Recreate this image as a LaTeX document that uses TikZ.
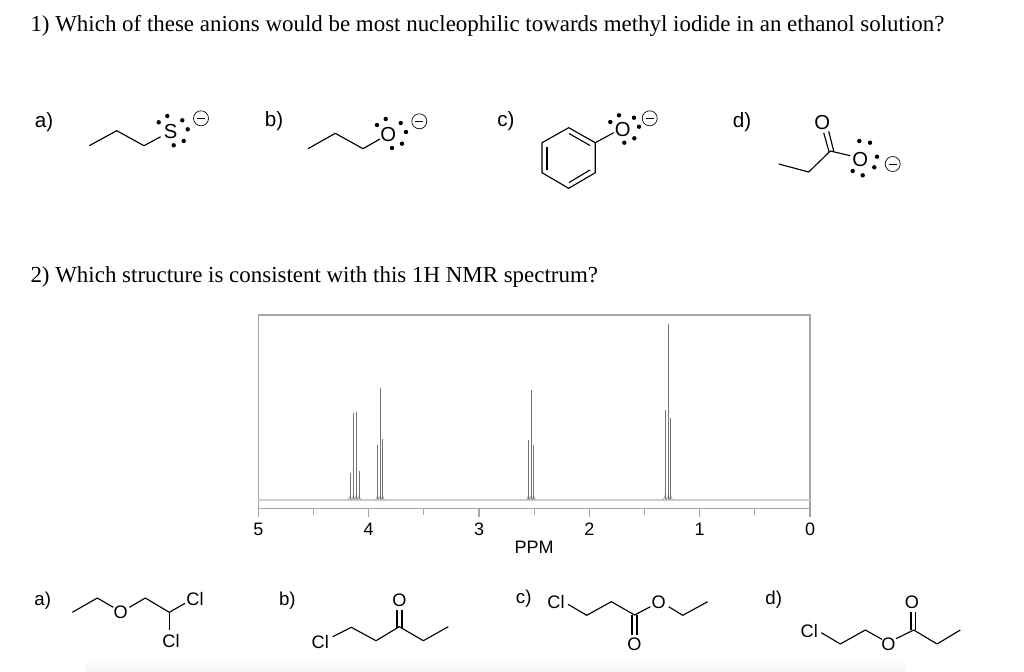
\documentclass[tikz,border=0pt]{standalone}
\usepackage{fontspec}
\setmainfont{Liberation Serif}
\newfontfamily\chemfont{Liberation Sans}
\tikzset{every picture/.style={line width=0.75pt}}
\tikzset{
  question/.style={anchor=west,inner sep=0pt,font=\fontsize{17.2}{20}\selectfont},
  option/.style={inner sep=0pt,font=\chemfont\fontsize{15.5}{18}\selectfont},
  low option/.style={inner sep=0pt,font=\chemfont\fontsize{14}{16}\selectfont},
  atom/.style={inner sep=0pt,font=\chemfont\fontsize{15.2}{17}\selectfont},
  low atom/.style={inner sep=0pt,font=\chemfont\fontsize{13.6}{15}\selectfont},
  tick label/.style={inner sep=0pt,font=\chemfont\fontsize{13.5}{15}\selectfont},
  bond/.style={line width=0.85pt,line join=round},
  lone/.style={fill=black,draw=none},
  frame/.style={draw={rgb,255:red,165;green,165;blue,165},line width=0.8pt},
  base/.style={draw={rgb,255:red,205;green,205;blue,205},line width=1.1pt},
  peak/.style={draw={rgb,255:red,115;green,115;blue,115},line width=0.75pt}
}
\newcommand{\minuscharge}[2]{%
  \draw[line width=0.5pt] (#1,#2) circle (7.5);
  \draw[line width=0.75pt] ({#1-4},#2) -- ({#1+4},#2);}
\newcommand{\lonedot}[2]{\fill[lone] (#1,#2) circle (2.2);}
\newcommand{\nmrpeak}[2]{%
  \draw[peak] (#1,499) -- (#1,#2);
  \draw[peak,draw opacity=0.5] ({#1-1.6},499.6) -- (#1,496) -- ({#1+1.6},499.6);}
\begin{document}
\begin{tikzpicture}[x=0.75pt,y=0.75pt,yscale=-1,xscale=1]
	\useasboundingbox (0,0) rectangle (1024,671);

	% faint edge at the foot of the page
	\fill[top color=white,bottom color={rgb,255:red,245;green,245;blue,245},draw=none] (85,657) rectangle (905,671);

	% Questions
	\node[question] (qone) at (30,25.5) {1) Which of these anions would be most nucleophilic towards methyl iodide in an ethanol solution?};
	\node[question] (qtwo) at (30,277) {2) Which structure is consistent with this 1H NMR spectrum?};

	% Anion a
	\node[option] (topa) at (44,122.5) {a)};
	\draw[bond] (89.3,145.7) -- (116.7,130.7) -- (144,145.7) -- (160.7,136.7);
	\node[atom] (sulfur) at (170.7,131.7) {S};
	\lonedot{167.3}{116} \lonedot{158.7}{122.3} \lonedot{182.3}{120.3}
	\lonedot{187.7}{129.3} \lonedot{173.7}{145.3} \lonedot{183.7}{141}
	\minuscharge{201}{118.3}

	% Anion b
	\node[option] (topb) at (274,121.5) {b)};
	\draw[bond] (308,148.7) -- (335.3,133.3) -- (363,148.7) -- (380,139);
	\node[atom] (oxygenb) at (388.3,134.3) {O};
	\lonedot{385.7}{119} \lonedot{377}{125} \lonedot{400.7}{123}
	\lonedot{406}{132} \lonedot{392}{148} \lonedot{402}{143.7}
	\minuscharge{419.3}{121.3}

	% Anion c
	\node[option] (topc) at (506,121.5) {c)};
	\draw[bond] (568.7,127.7) -- (595.3,142.7) -- (595.3,172.7) -- (568.7,188.3) -- (542,172.7) -- (542,142.7) -- cycle;
	\draw[bond] (569,133.5) -- (590,145.5);
	\draw[bond] (547,147) -- (547,169.5);
	\draw[bond] (569,182.5) -- (590,170);
	\draw[bond] (595.3,142.7) -- (613.7,132.7);
	\node[atom] (oxygenc) at (622.7,129.3) {O};
	\lonedot{619}{115.3} \lonedot{610.3}{122} \lonedot{634}{117.7}
	\lonedot{639}{126.7} \lonedot{624.3}{142.7} \lonedot{634.3}{138.3}
	\minuscharge{649.7}{118.3}

	% Anion d
	\node[option] (topd) at (742,122.5) {d)};
	\draw[bond] (778.7,164) -- (808.7,172) -- (830.3,151) -- (850.3,155.7);
	\draw[bond] (823.7,132.7) -- (829,151.7);
	\draw[bond] (828.7,131.3) -- (833.7,151);
	\node[atom] (oxygendone) at (822.3,122.3) {O};
	\node[atom] (oxygendtwo) at (860.3,159.3) {O};
	\lonedot{859.3}{141} \lonedot{870}{142.7} \lonedot{877}{156.7}
	\lonedot{874.3}{167.3} \lonedot{852.7}{171} \lonedot{862.7}{175.3}
	\minuscharge{892.7}{164}

	% Spectrum
	\draw[frame] (258.3,508.3) -- (258.3,315) -- (810,315) -- (810,508.3);
	\draw[base] (258.3,500) -- (810,500);
	\draw[frame] (258.3,508.3) -- (810,508.3);
	\foreach \tickx in {258.3,368.7,479,589.3,699.7,810}
		\draw[frame] (\tickx,508.3) -- (\tickx,517);
	\foreach \tickx in {313.5,423.9,534.2,644.5,754.9}
		\draw[frame] (\tickx,508.3) -- (\tickx,515);
	\nmrpeak{350}{472.7} \nmrpeak{353.3}{413.3} \nmrpeak{356}{412} \nmrpeak{359}{471}
	\nmrpeak{377.3}{445} \nmrpeak{380}{388} \nmrpeak{382.7}{439.3}
	\nmrpeak{528.3}{440} \nmrpeak{531}{390} \nmrpeak{533.7}{445}
	\nmrpeak{665}{410} \nmrpeak{668}{324} \nmrpeak{670.7}{418}
	\node[tick label] (ppmfive) at (258.3,529.5) {5};
	\node[tick label] (ppmfour) at (368.7,529.5) {4};
	\node[tick label] (ppmthree) at (479,529.5) {3};
	\node[tick label] (ppmtwo) at (589.3,529.5) {2};
	\node[tick label] (ppmone) at (699.7,529.5) {1};
	\node[tick label] (ppmzero) at (810,529.5) {0};
	\node[tick label] (ppmtitle) at (534.2,547.5) {PPM};

	% Structure a
	\node[low option] (lowa) at (42.7,600.5) {a)};
	\node[low atom] (etherao) at (120.7,612.7) {O};
	\node[low atom] (clar) at (195,599.3) {Cl};
	\node[low atom] (clab) at (171,640.7) {Cl};
	\draw[bond] (72.3,612.3) -- (97.3,598) -- (113.3,607.3);
	\draw[bond] (129.3,607.3) -- (145.3,598) -- (169.3,612.3) -- (185,603.3);
	\draw[bond] (169.3,612.3) -- (169.3,630);

	% Structure b
	\node[low option] (lowb) at (287.3,600.5) {b)};
	\node[low atom] (clb) at (320.3,642.3) {Cl};
	\node[low atom] (ketoneb) at (399.3,600.7) {O};
	\draw[bond] (332.7,636.7) -- (351.3,627.3) -- (376,640.7) -- (399.3,626.7) -- (423.3,640.7) -- (448.3,626.7);
	\draw[bond] (397,610) -- (397,627.5);
	\draw[bond] (402,610) -- (402,628);

	% Structure c
	\node[low option] (lowc) at (523.7,598.3) {c)};
	\node[low atom] (clc) at (556,602.3) {Cl};
	\node[low atom] (etherc) at (658.7,602.3) {O};
	\node[low atom] (ketonec) at (634.3,644) {O};
	\draw[bond] (568,604.3) -- (586.7,615.3) -- (611.3,601.7) -- (634.7,615) -- (650.3,606.7);
	\draw[bond] (668.7,606.7) -- (682.7,615.3) -- (707.7,601.7);
	\draw[bond] (632,615) -- (632,635);
	\draw[bond] (637,615) -- (637,635);

	% Structure d
	\node[low option] (lowd) at (773.7,599.3) {d)};
	\node[low atom] (cld) at (809.3,631) {Cl};
	\node[low atom] (etherd) at (888.3,644) {O};
	\node[low atom] (ketoned) at (912,602.7) {O};
	\draw[bond] (821.3,632.7) -- (840.3,644) -- (865.3,630) -- (882,639.3);
	\draw[bond] (896,638.7) -- (913.7,630) -- (937,644) -- (960.3,630);
	\draw[bond] (911,612) -- (911,630);
	\draw[bond] (915.5,612) -- (915.5,630);

\end{tikzpicture}
\end{document}
